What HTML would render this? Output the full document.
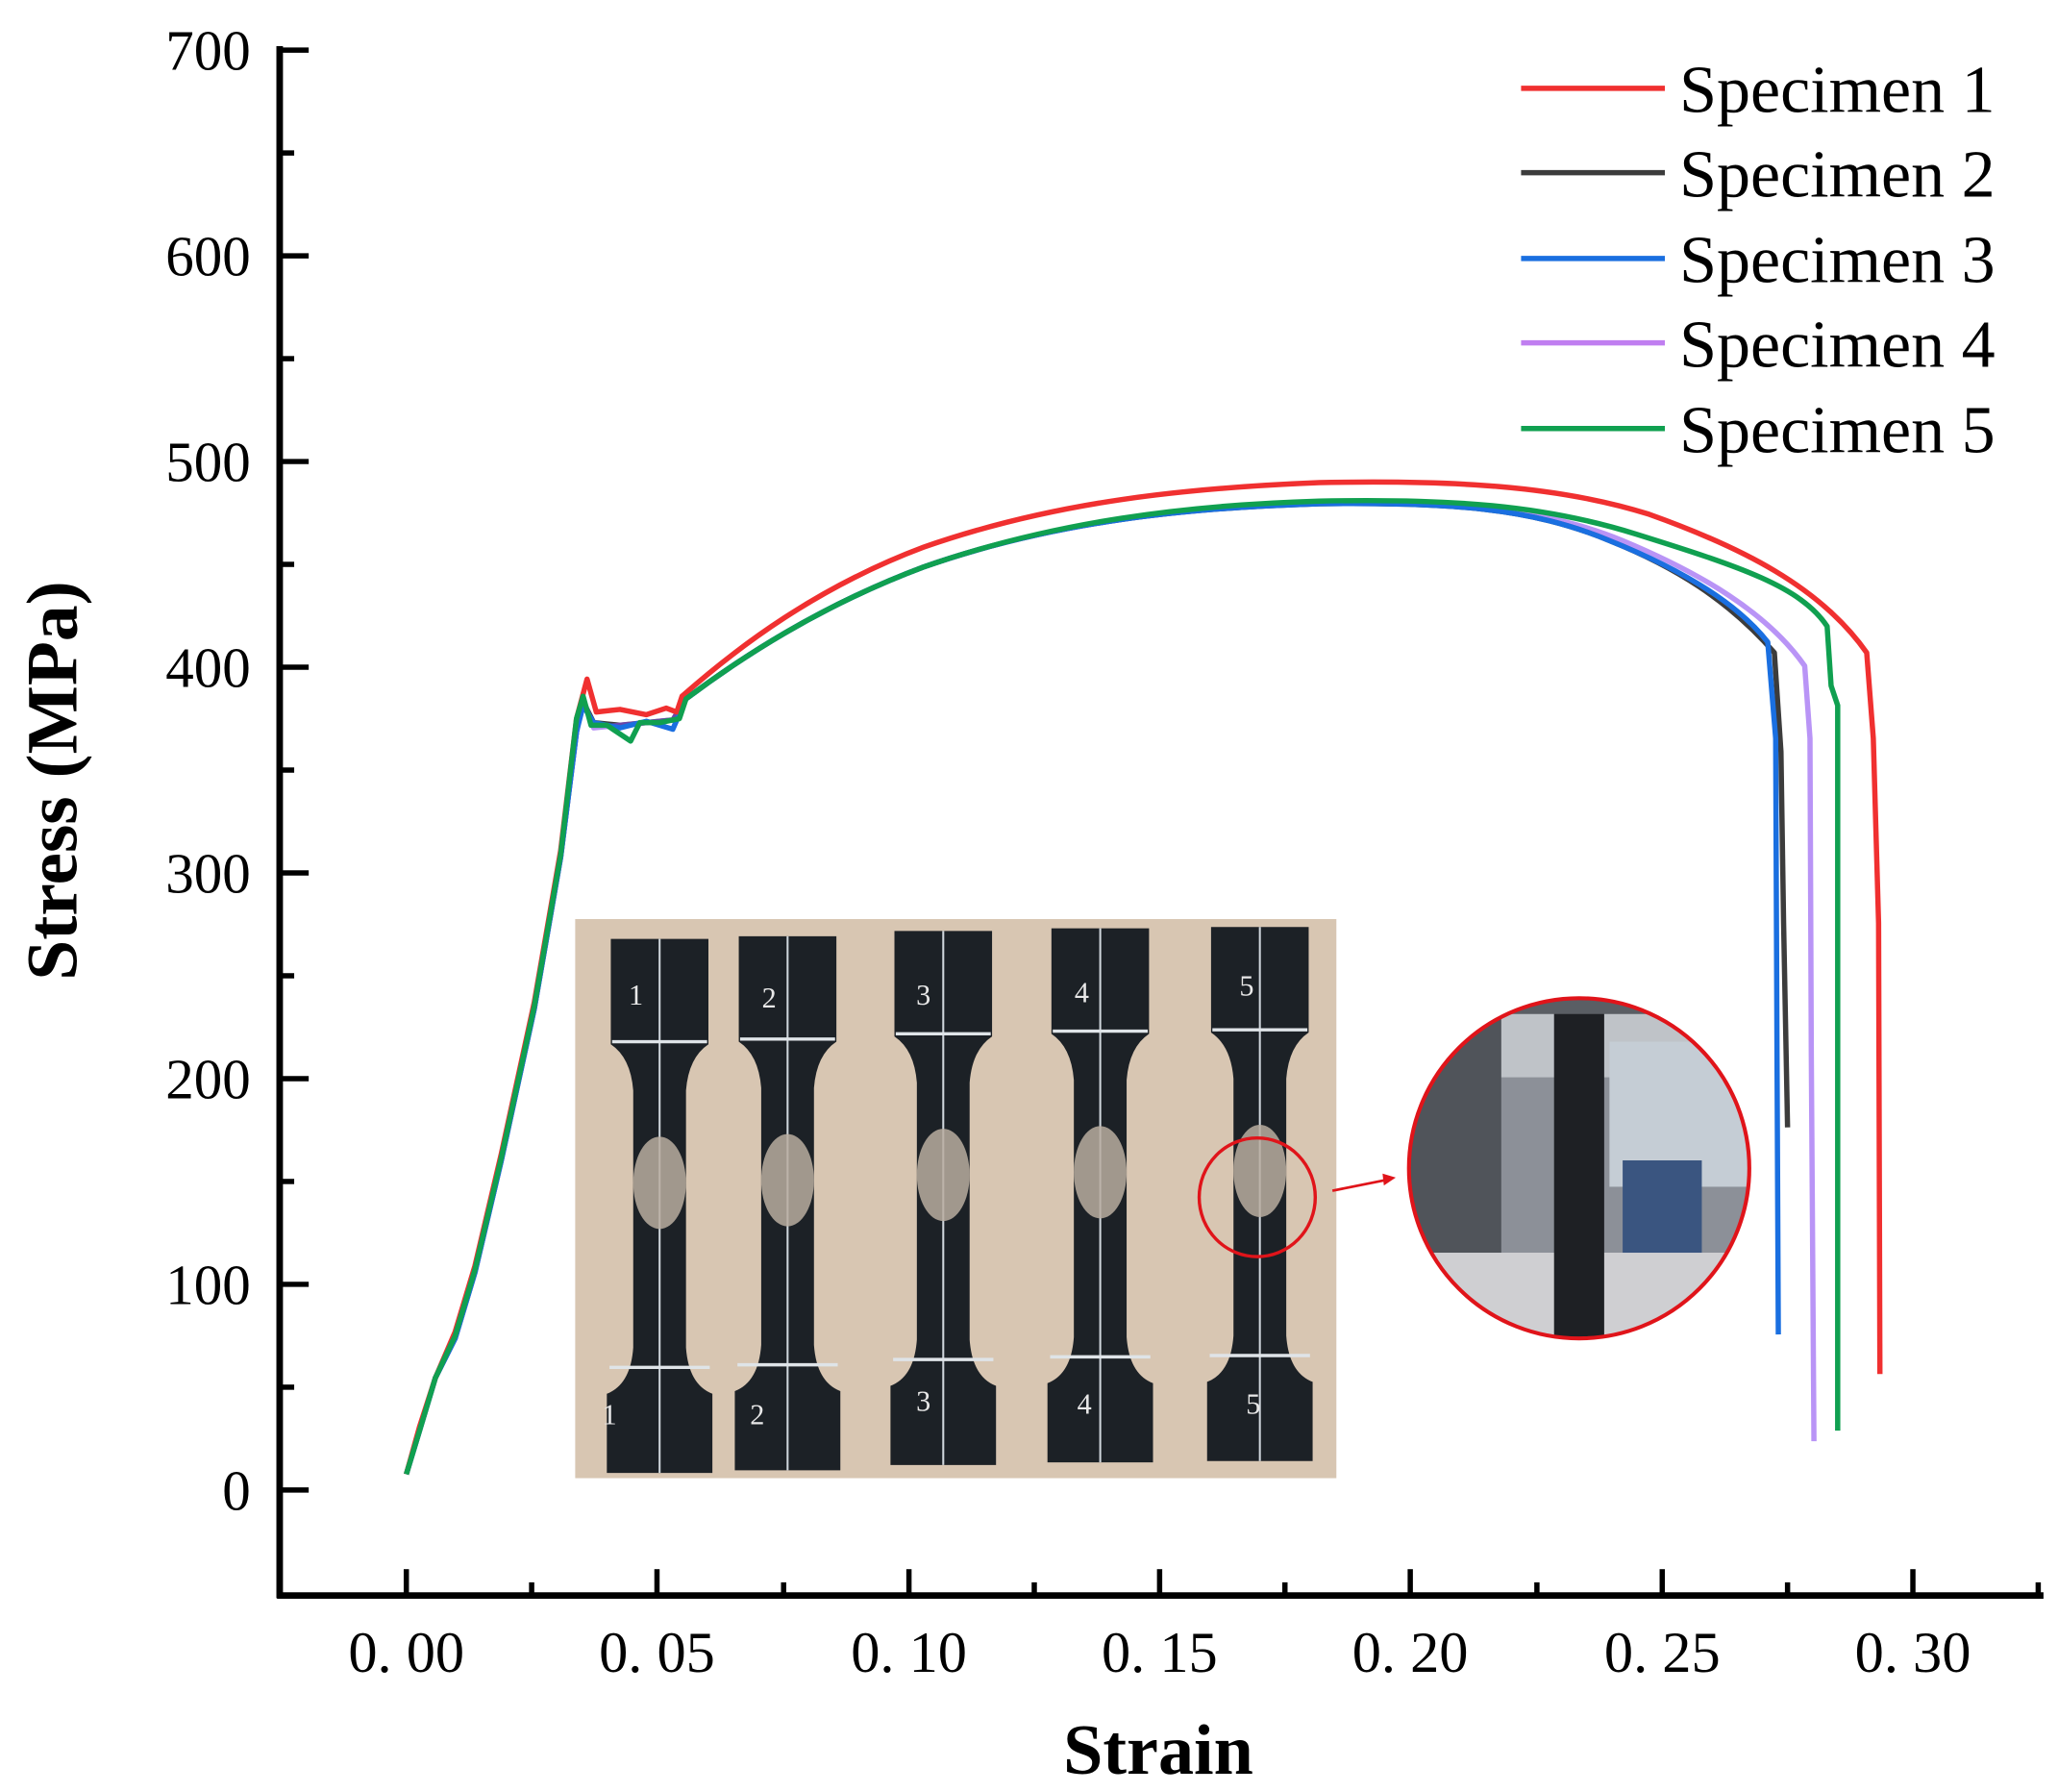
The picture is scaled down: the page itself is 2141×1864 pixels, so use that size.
<!DOCTYPE html>
<html><head><meta charset="utf-8"><style>
html,body{margin:0;padding:0;background:#fff}
svg{display:block}
text{font-family:"Liberation Serif",serif}
</style></head><body>
<svg width="2141" height="1864" viewBox="0 0 1560 1359" preserveAspectRatio="none" xmlns="http://www.w3.org/2000/svg">
<defs>
<symbol id="bone" overflow="visible">
<path d="M-37,0 L37,0 L37,80 Q22,90 20,115 L20,310 Q22,338 40,345 L40,405 L-40,405 L-40,345 Q-22,338 -20,310 L-20,115 Q-22,90 -37,80 Z" fill="#1c2126"/>
<line x1="0" y1="0" x2="0" y2="405" stroke="#cfd6dc" stroke-width="1.5"/>
<line x1="-36" y1="78" x2="36" y2="78" stroke="#dfe4e8" stroke-width="2.5"/>
<line x1="-38" y1="325" x2="38" y2="325" stroke="#dfe4e8" stroke-width="2.5"/>
<ellipse cx="0" cy="185" rx="20" ry="35" fill="#b9ada0" opacity="0.85"/>
</symbol>
</defs>
<line x1="212" y1="35" x2="212" y2="1212" stroke="#000" stroke-width="5"/>
<line x1="210" y1="1210" x2="1549" y2="1210" stroke="#000" stroke-width="5"/>
<g stroke="#000" stroke-width="4">
<line x1="212" y1="38" x2="234" y2="38"/><line x1="212" y1="194" x2="234" y2="194"/><line x1="212" y1="350" x2="234" y2="350"/><line x1="212" y1="506" x2="234" y2="506"/><line x1="212" y1="662" x2="234" y2="662"/><line x1="212" y1="818" x2="234" y2="818"/><line x1="212" y1="974" x2="234" y2="974"/><line x1="212" y1="1130" x2="234" y2="1130"/>
<line x1="212" y1="116" x2="223" y2="116"/><line x1="212" y1="272" x2="223" y2="272"/><line x1="212" y1="428" x2="223" y2="428"/><line x1="212" y1="584" x2="223" y2="584"/><line x1="212" y1="740" x2="223" y2="740"/><line x1="212" y1="896" x2="223" y2="896"/><line x1="212" y1="1052" x2="223" y2="1052"/>
<line x1="308" y1="1210" x2="308" y2="1190"/><line x1="498" y1="1210" x2="498" y2="1190"/><line x1="689" y1="1210" x2="689" y2="1190"/><line x1="879" y1="1210" x2="879" y2="1190"/><line x1="1069" y1="1210" x2="1069" y2="1190"/><line x1="1260" y1="1210" x2="1260" y2="1190"/><line x1="1450" y1="1210" x2="1450" y2="1190"/>
<line x1="403" y1="1210" x2="403" y2="1200"/><line x1="594" y1="1210" x2="594" y2="1200"/><line x1="784" y1="1210" x2="784" y2="1200"/><line x1="974" y1="1210" x2="974" y2="1200"/><line x1="1165" y1="1210" x2="1165" y2="1200"/><line x1="1355" y1="1210" x2="1355" y2="1200"/><line x1="1545" y1="1210" x2="1545" y2="1200"/>
</g>
<g font-size="43" text-anchor="end">
<text x="190" y="53">700</text><text x="190" y="209">600</text><text x="190" y="365">500</text><text x="190" y="521">400</text><text x="190" y="677">300</text><text x="190" y="833">200</text><text x="190" y="989">100</text><text x="190" y="1145">0</text>
</g>
<g font-size="44" text-anchor="middle">
<text x="308" y="1268">0. 00</text><text x="498" y="1268">0. 05</text><text x="689" y="1268">0. 10</text><text x="879" y="1268">0. 15</text><text x="1069" y="1268">0. 20</text><text x="1260" y="1268">0. 25</text><text x="1450" y="1268">0. 30</text>
</g>
<text x="878" y="1345" font-size="54" font-weight="bold" text-anchor="middle">Strain</text>
<text transform="translate(58,592) rotate(-90)" font-size="55" font-weight="bold" text-anchor="middle">Stress (MPa)</text>
<rect x="436" y="697" width="577" height="424" fill="#d8c6b2"/>
<use href="#bone" x="500" y="712"/>
<use href="#bone" x="597" y="710"/>
<use href="#bone" x="715" y="706"/>
<use href="#bone" x="834" y="704"/>
<use href="#bone" x="955" y="703"/>
<g fill="#e8e8e8" font-size="22" text-anchor="middle"><text x="482" y="762">1</text><text x="583" y="764">2</text><text x="700" y="762">3</text><text x="820" y="760">4</text><text x="945" y="755">5</text>
<text x="462" y="1080">1</text><text x="574" y="1080">2</text><text x="700" y="1070">3</text><text x="822" y="1072">4</text><text x="950" y="1072">5</text></g>
<ellipse cx="953" cy="908" rx="44" ry="45" fill="none" stroke="#e0141a" stroke-width="2.5"/>
<line x1="1010" y1="903" x2="1050" y2="895" stroke="#e0141a" stroke-width="2"/>
<polygon points="1058,893 1048,890 1049,899" fill="#e0141a"/>
<circle cx="1197" cy="886" r="129" fill="#8c9098"/>
<clipPath id="cc"><circle cx="1197" cy="886" r="128"/></clipPath>
<g clip-path="url(#cc)">
<rect x="1068" y="757" width="260" height="60" fill="#bfc3c8"/>
<rect x="1068" y="757" width="70" height="260" fill="#50545a"/>
<rect x="1220" y="790" width="110" height="110" fill="#c5cdd5"/>
<rect x="1068" y="950" width="260" height="70" fill="#cfcfd2"/>
<rect x="1230" y="880" width="60" height="70" fill="#3a5580"/>
<rect x="1178" y="757" width="38" height="260" fill="#1e2024"/>
<rect x="1068" y="757" width="260" height="12" fill="#5a5e64"/>
</g>
<circle cx="1197" cy="886" r="129" fill="none" stroke="#e0141a" stroke-width="3"/>
<g fill="none" stroke-width="4" stroke-linejoin="round">
<path stroke="#3c3c3c" d="M308,1118 L318,1085 L330,1045 L345,1015 L360,965 L380,880 L405,765 L425,650 L437,555 L442,532 L450,548 L470,550 L490,548 L510,546 L520,530 C560,500 620,460 700,430 C800,395 900,385 1000,382 C1100,381 1160,385 1220,410 C1270,430 1310,455 1345,495 L1350,570 L1352,700 L1355,855"/>
<path stroke="#8b4cf0" stroke-opacity="0.6" d="M308,1118 L318,1085 L330,1045 L345,1015 L360,965 L380,880 L405,765 L425,650 L437,555 L442,530 L450,552 L470,550 L490,548 L510,546 L520,530 C560,500 620,460 700,430 C800,395 900,385 1000,381 C1100,380 1170,385 1230,410 C1290,435 1340,465 1368,505 L1372,560 L1373,800 L1375,1093"/>
<path stroke="#1a6fe0" d="M308,1118 L318,1085 L330,1045 L345,1015 L360,965 L380,880 L405,765 L425,650 L437,555 L442,535 L450,548 L470,552 L490,547 L510,553 L520,530 C560,500 620,460 700,430 C800,395 900,385 1000,382 C1100,381 1160,385 1220,410 C1270,430 1315,455 1340,487 L1346,560 L1347,800 L1348,1012"/>
<path stroke="#f03030" d="M308,1118 L318,1082 L330,1045 L345,1010 L360,960 L380,875 L405,760 L425,645 L437,545 L445,515 L452,540 L470,538 L490,542 L505,537 L513,540 L517,528 C560,490 620,445 700,415 C800,380 900,370 1000,366 C1100,364 1180,368 1250,390 C1320,415 1380,445 1415,495 L1420,560 L1424,700 L1425,1042"/>
<path stroke="#10a050" d="M308,1118 L318,1085 L330,1045 L345,1013 L360,963 L380,878 L405,763 L425,648 L437,545 L442,528 L448,550 L460,550 L478,562 L485,548 L500,548 L515,545 L520,530 C560,500 620,460 700,430 C800,395 900,383 1000,380 C1100,378 1170,383 1240,405 C1320,430 1365,445 1385,475 L1388,520 L1393,535 L1393,800 L1393,1085"/>
</g>
<g stroke-width="4">
<line x1="1153" y1="67" x2="1262" y2="67" stroke="#f03030"/>
<line x1="1153" y1="131" x2="1262" y2="131" stroke="#3c3c3c"/>
<line x1="1153" y1="196" x2="1262" y2="196" stroke="#1a6fe0"/>
<line x1="1153" y1="260" x2="1262" y2="260" stroke="#c07ef0"/>
<line x1="1153" y1="325" x2="1262" y2="325" stroke="#10a050"/>
</g>
<g font-size="51">
<text x="1273" y="85">Specimen 1</text><text x="1273" y="149">Specimen 2</text><text x="1273" y="214">Specimen 3</text><text x="1273" y="278">Specimen 4</text><text x="1273" y="343">Specimen 5</text>
</g>
</svg>
</body></html>
